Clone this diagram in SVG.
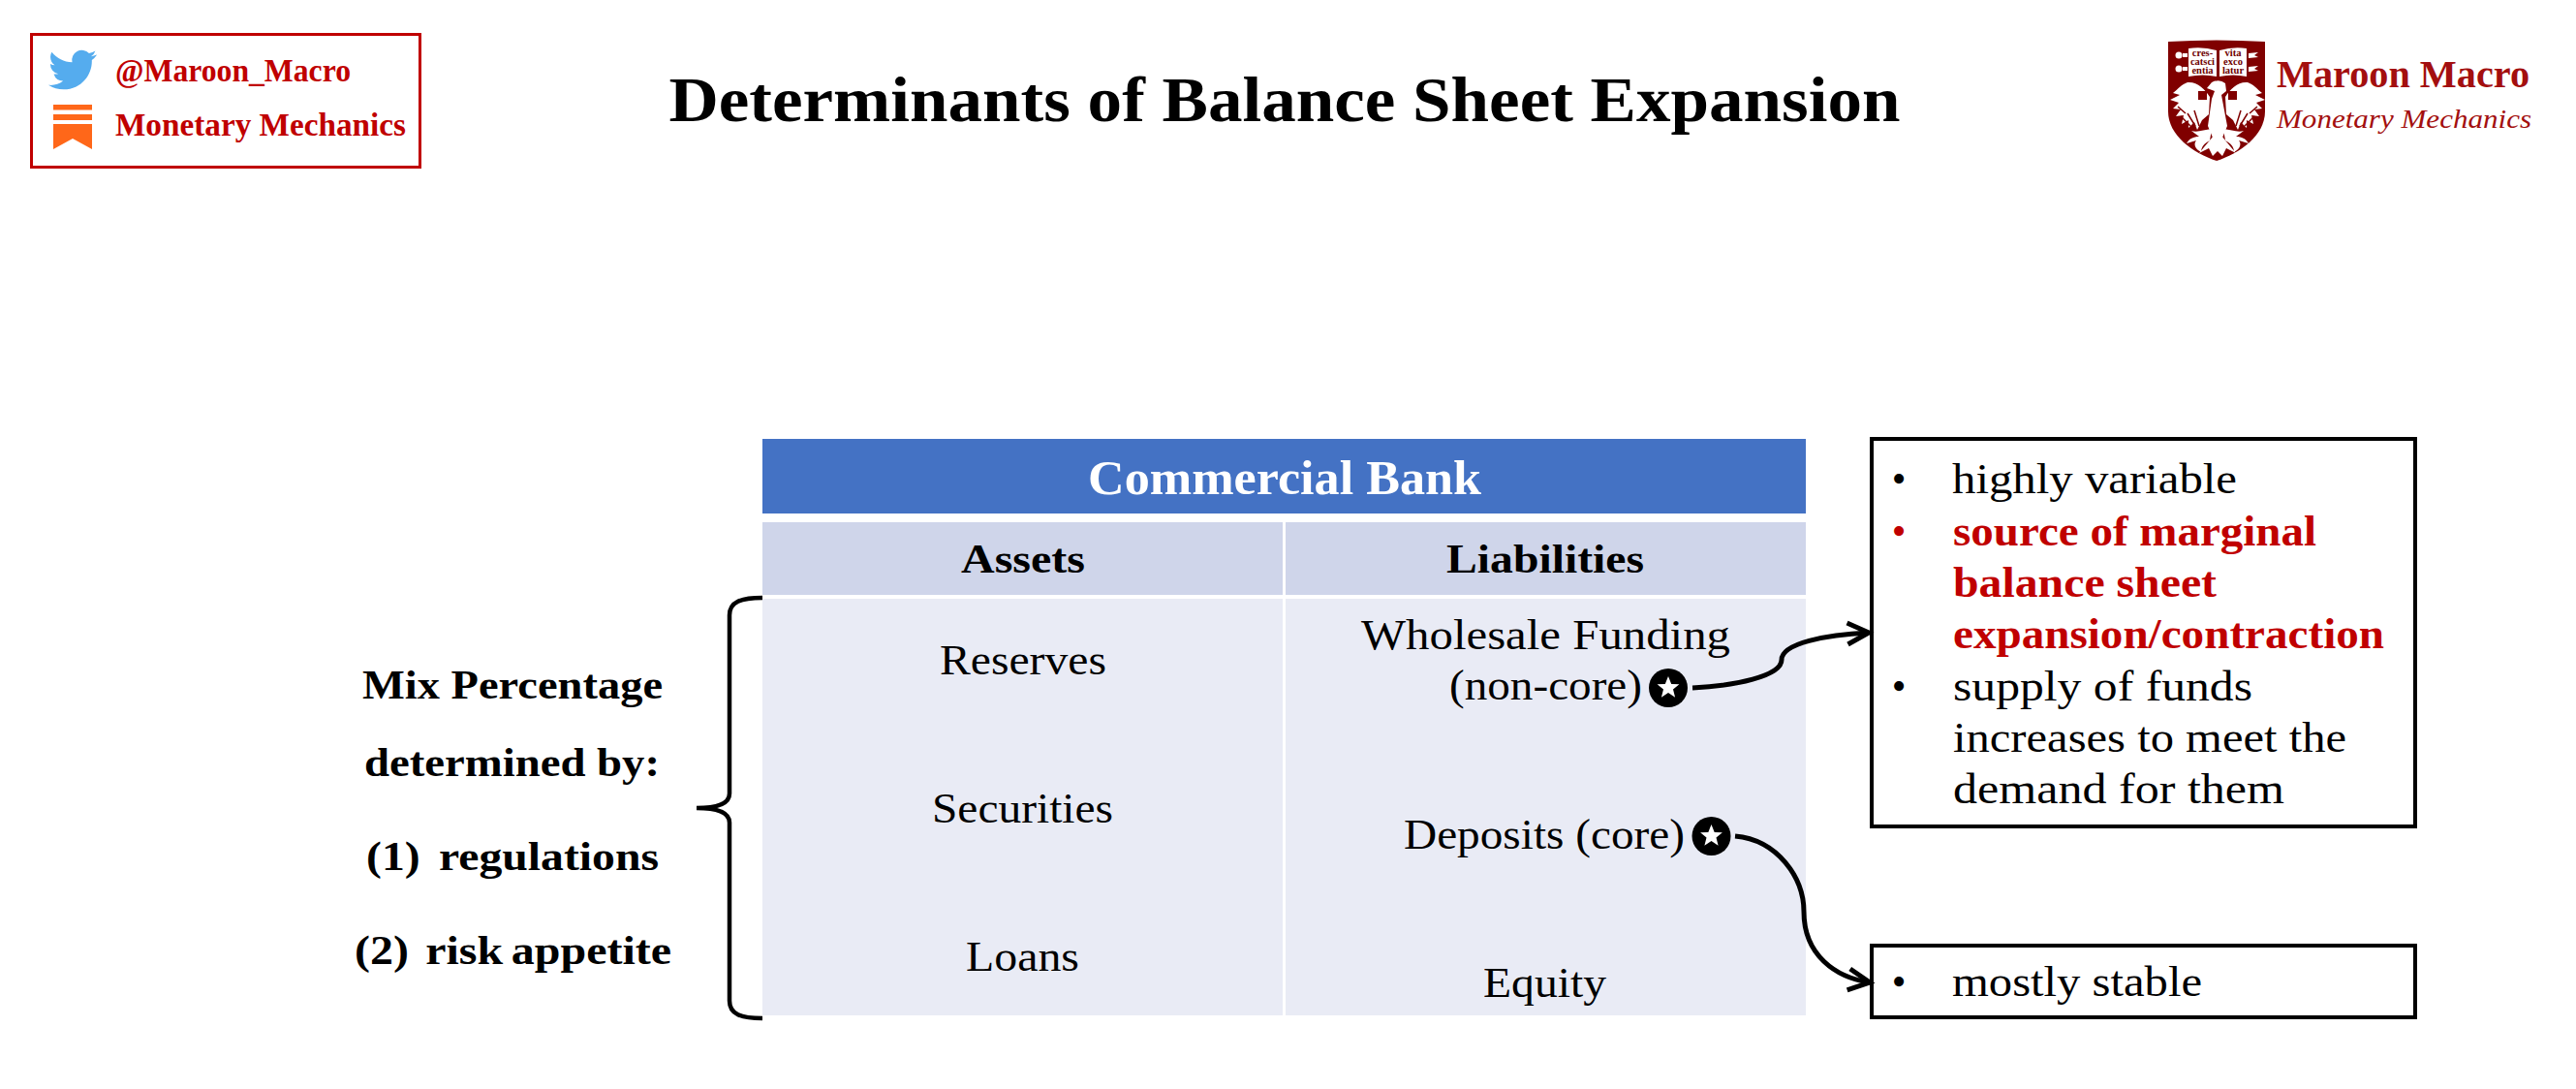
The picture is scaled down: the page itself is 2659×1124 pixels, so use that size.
<svg xmlns="http://www.w3.org/2000/svg" width="2659" height="1124" viewBox="0 0 2659 1124">
<style>
text{font-family:"Liberation Serif","Times New Roman",serif;fill:#000}
.r{font-size:45px}
.b{font-size:43px;font-weight:700}
.m{text-anchor:middle}
.red{fill:#c00000}
.hb{font-size:33px;font-weight:700;fill:#c00000}
.bul{font-size:42px;text-anchor:middle}
.box{fill:#fff;stroke:#000;stroke-width:4}
.cp{font-size:10.5px;font-weight:700;fill:#6e0000;text-anchor:middle}
.ln{fill:none;stroke:#000;stroke-width:5}
.w{fill:#fff}
</style>
<defs>
<marker id="chev" markerUnits="userSpaceOnUse" markerWidth="34" markerHeight="34" refX="25" refY="14" orient="auto" overflow="visible"><path d="M3 3 L25 14 L3 25" fill="none" stroke="#000" stroke-width="5"/></marker>
<path id="star" d="M0 -12 L3.2 -3.9 L11.4 -3.7 L5 1.5 L7.1 9.7 L0 5 L-7.1 9.7 L-5 1.5 L-11.4 -3.7 L-3.2 -3.9Z" fill="#fff"/>
<g id="wing">
<path d="M2281 100 C2276 92 2268 84 2258 85 C2252 87 2248 92 2243 96 L2250 98 L2240 103 L2249 106 L2243 112 L2251 113 L2246 120 L2254 119 L2252 128 L2259 124 L2259 132 L2265 126 L2268 134 L2273 124 L2280 118Z" fill="#fff"/>
<path d="M2269 94h9v9h-9z" fill="#800000"/>
<path d="M2251 120l10 10M2258 117l8 13M2265 114l5 16M2248 110l8 7" stroke="#800000" stroke-width="1.5" fill="none"/>
<path d="M2283 133 C2275 134 2268 137 2262 135 L2270 141 C2264 141 2260 143 2257 148 L2267 145 C2263 150 2268 155 2272 157 C2272 152 2275 148 2281 145Z" fill="#fff"/>
</g>
</defs>

<g id="social">
<rect x="32.5" y="35.5" width="401" height="137" fill="#fff" stroke="#c00000" stroke-width="3"/>
<path transform="translate(50 47.1) scale(2.08)" fill="#55acee" d="M23.953 4.57a10 10 0 01-2.825.775 4.958 4.958 0 002.163-2.723c-.951.555-2.005.959-3.127 1.184a4.92 4.92 0 00-8.384 4.482C7.69 8.095 4.067 6.13 1.64 3.162a4.822 4.822 0 00-.666 2.475c0 1.71.87 3.213 2.188 4.096a4.904 4.904 0 01-2.228-.616v.06a4.923 4.923 0 003.946 4.827 4.996 4.996 0 01-2.212.085 4.936 4.936 0 004.604 3.417 9.867 9.867 0 01-6.102 2.105c-.39 0-.779-.023-1.17-.067a13.995 13.995 0 007.557 2.209c9.053 0 13.998-7.496 13.998-13.985 0-.21 0-.42-.015-.63A9.935 9.935 0 0024 4.59z"/>
<path fill="#ff6719" d="M55 108h40v5.500h-40zM55 118h40v6h-40zM55 128h40v26l-20-11l-20 11z"/>
<text class="hb" x="119" y="84" textLength="243" lengthAdjust="spacingAndGlyphs">@Maroon_Macro</text>
<text class="hb" x="119" y="140" textLength="300" lengthAdjust="spacingAndGlyphs">Monetary Mechanics</text>
</g>

<g id="title">
<text x="1326" y="125" class="m" font-size="66" font-weight="700" textLength="1271" lengthAdjust="spacingAndGlyphs">Determinants of Balance Sheet Expansion</text>
</g>

<g id="logo">
<path d="M2238 43 Q2288 40 2338 43 L2338 115 C2338 140 2312 158 2288 166 C2264 158 2238 140 2238 115Z" fill="#800000"/>
<path d="M2259 50 Q2274 48 2288 52 V79 Q2274 76 2259 79Z M2291 52 Q2305 48 2319 50 V79 Q2305 76 2291 79Z" fill="#fff"/>
<text class="cp" x="2273.500" y="58">cres-</text>
<text class="cp" x="2273.500" y="67">catsci</text>
<text class="cp" x="2273.500" y="76">entia</text>
<text class="cp" x="2305" y="58">vita</text>
<text class="cp" x="2305" y="67">exco</text>
<text class="cp" x="2305" y="76">latur</text>
<circle class="w" cx="2249" cy="57" r="3.500"/><circle class="w" cx="2249" cy="71" r="3.500"/>
<path class="w" d="M2253 55h5v4h-5zM2253 69h5v4h-5zM2321 55l10 -1l-4 3l4 2l-10 1zM2321 69l10 -1l-4 3l4 2l-10 1z"/>
<use href="#wing"/>
<use href="#wing" transform="translate(4578 0) scale(-1 1)"/>
<path class="w" d="M2278 91 L2283 85 Q2291 81 2297 86 L2298 94 L2293 98 L2299 130 L2294 142 L2289 136 L2284 142 L2279 130 L2283 102 L2286 94 Z"/>
<path class="w" d="M2289 134 C2283 143 2279 147 2270 158 L2280 153 L2284 161 L2289 156 L2294 161 L2298 153 L2308 158 C2299 147 2295 143 2289 134Z"/>
<text x="2350" y="90" font-size="39" font-weight="700" style="fill:#a30f0f" textLength="261" lengthAdjust="spacingAndGlyphs">Maroon Macro</text>
<text x="2350" y="132" font-size="28" font-style="italic" style="fill:#a30f0f" textLength="263" lengthAdjust="spacingAndGlyphs">Monetary Mechanics</text>
</g>

<g id="brace">
<path d="M787 617 C765 617 753 621 753 635 L753 819 C753 829 742 834 719 834 C742 834 753 839 753 849 L753 1033 C753 1047 765 1051 787 1051" fill="none" stroke="#000" stroke-width="4.500"/>
</g>

<g id="drivers">
<text class="b" x="374" y="721" textLength="310" lengthAdjust="spacingAndGlyphs">Mix Percentage</text>
<text class="b" x="376" y="801" textLength="305" lengthAdjust="spacingAndGlyphs">determined by:</text>
<text class="b" x="378" y="898" xml:space="preserve" style="word-spacing:-2px" textLength="302" lengthAdjust="spacingAndGlyphs">(1)  regulations</text>
<text class="b" x="366" y="995" xml:space="preserve" style="word-spacing:-3px" textLength="327" lengthAdjust="spacingAndGlyphs">(2)  risk appetite</text>
</g>

<g id="table">
<rect x="787" y="453" width="1077" height="77" fill="#4472c4"/>
<rect x="787" y="539" width="537" height="75" fill="#cfd5ea"/>
<rect x="1327" y="539" width="537" height="75" fill="#cfd5ea"/>
<rect x="787" y="618" width="537" height="430" fill="#e9ebf5"/>
<rect x="1327" y="618" width="537" height="430" fill="#e9ebf5"/>
<text class="m" x="1326" y="510" font-size="50" font-weight="700" style="fill:#fff" textLength="406" lengthAdjust="spacingAndGlyphs">Commercial Bank</text>
<text class="m b" x="1056" y="591" textLength="128" lengthAdjust="spacingAndGlyphs">Assets</text>
<text class="m b" x="1595" y="591" textLength="204" lengthAdjust="spacingAndGlyphs">Liabilities</text>
<text class="r" x="970" y="696" textLength="172" lengthAdjust="spacingAndGlyphs">Reserves</text>
<text class="r" x="962" y="849" textLength="187" lengthAdjust="spacingAndGlyphs">Securities</text>
<text class="r" x="997" y="1002" textLength="117" lengthAdjust="spacingAndGlyphs">Loans</text>
<text class="r" x="1405" y="670" textLength="381" lengthAdjust="spacingAndGlyphs">Wholesale Funding</text>
<text class="r" x="1496" y="722" textLength="199" lengthAdjust="spacingAndGlyphs">(non-core)</text>
<text class="r" x="1449" y="876" textLength="290" lengthAdjust="spacingAndGlyphs">Deposits (core)</text>
<text class="r" x="1531" y="1029" textLength="127" lengthAdjust="spacingAndGlyphs">Equity</text>
</g>

<g id="badge-wholesale"><circle cx="1722" cy="710" r="20"/><use href="#star" x="1722" y="710"/></g>
<g id="badge-deposits"><circle cx="1766.500" cy="863" r="20"/><use href="#star" x="1766.500" y="863"/></g>

<g id="note-variable">
<rect class="box" x="1932" y="453" width="561" height="400"/>
<text class="bul" x="1960" y="508">•</text>
<text class="r" x="2015" y="509" textLength="294" lengthAdjust="spacingAndGlyphs">highly variable</text>
<text class="bul red" x="1960" y="562">•</text>
<text class="r red" font-weight="700" x="2016" y="563" textLength="375" lengthAdjust="spacingAndGlyphs">source of marginal</text>
<text class="r red" font-weight="700" x="2016" y="616" textLength="272" lengthAdjust="spacingAndGlyphs">balance sheet</text>
<text class="r red" font-weight="700" x="2016" y="669" textLength="445" lengthAdjust="spacingAndGlyphs">expansion/contraction</text>
<text class="bul" x="1960" y="722">•</text>
<text class="r" x="2016" y="723" textLength="309" lengthAdjust="spacingAndGlyphs">supply of funds</text>
<text class="r" x="2016" y="776" textLength="406" lengthAdjust="spacingAndGlyphs">increases to meet the</text>
<text class="r" x="2016" y="829" textLength="342" lengthAdjust="spacingAndGlyphs">demand for them</text>
</g>

<g id="note-stable">
<rect class="box" x="1932" y="976" width="561" height="74"/>
<text class="bul" x="1960" y="1027">•</text>
<text class="r" x="2015" y="1028" textLength="258" lengthAdjust="spacingAndGlyphs">mostly stable</text>
</g>

<g id="connectors">
<path class="ln" marker-end="url(#chev)" d="M1747 710 C1790 708 1839 698 1839 681 C1839 664 1885 655 1929 653"/>
<path class="ln" marker-end="url(#chev)" d="M1791 863 C1835 867 1862 906 1862 941 C1862 986 1895 1009 1930 1014"/>
</g>
</svg>
